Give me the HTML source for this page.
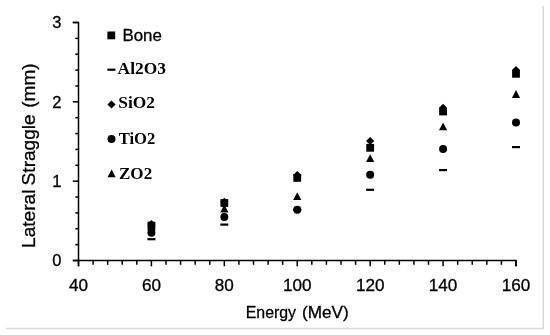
<!DOCTYPE html>
<html><head><meta charset="utf-8"><title>Lateral Straggle vs Energy</title>
<style>html,body{margin:0;padding:0;background:#fff;width:550px;height:335px;overflow:hidden}svg{display:block}</style>
</head><body><svg width="550" height="335" viewBox="0 0 550 335"><g stroke="#000" stroke-width="1.5" fill="none"><path d="M72.8 22.5H78.5V266.3M72.8 260.5H516V266.3" /><path d="M72.8 260.50H78.5"/><path d="M72.8 181.17H78.5"/><path d="M72.8 101.83H78.5"/><path d="M72.8 22.50H78.5"/><path d="M75.3 244.63H78.5"/><path d="M75.3 228.77H78.5"/><path d="M75.3 212.90H78.5"/><path d="M75.3 197.03H78.5"/><path d="M75.3 165.30H78.5"/><path d="M75.3 149.43H78.5"/><path d="M75.3 133.57H78.5"/><path d="M75.3 117.70H78.5"/><path d="M75.3 85.97H78.5"/><path d="M75.3 70.10H78.5"/><path d="M75.3 54.23H78.5"/><path d="M75.3 38.37H78.5"/><path d="M78.50 260.5V266.3"/><path d="M151.42 260.5V266.3"/><path d="M224.33 260.5V266.3"/><path d="M297.25 260.5V266.3"/><path d="M370.17 260.5V266.3"/><path d="M443.08 260.5V266.3"/><path d="M516.00 260.5V266.3"/><path d="M93.08 260.5V264.8"/><path d="M107.67 260.5V264.8"/><path d="M122.25 260.5V264.8"/><path d="M136.83 260.5V264.8"/><path d="M166.00 260.5V264.8"/><path d="M180.58 260.5V264.8"/><path d="M195.17 260.5V264.8"/><path d="M209.75 260.5V264.8"/><path d="M238.92 260.5V264.8"/><path d="M253.50 260.5V264.8"/><path d="M268.08 260.5V264.8"/><path d="M282.67 260.5V264.8"/><path d="M311.83 260.5V264.8"/><path d="M326.42 260.5V264.8"/><path d="M341.00 260.5V264.8"/><path d="M355.58 260.5V264.8"/><path d="M384.75 260.5V264.8"/><path d="M399.33 260.5V264.8"/><path d="M413.92 260.5V264.8"/><path d="M428.50 260.5V264.8"/><path d="M457.67 260.5V264.8"/><path d="M472.25 260.5V264.8"/><path d="M486.83 260.5V264.8"/><path d="M501.42 260.5V264.8"/></g><g font-family="Liberation Sans, Arial, sans-serif" stroke="#000" stroke-width="0.3" font-size="16" fill="#000"><text transform="translate(61.4 266.30) scale(1.03 1)" text-anchor="end">0</text><text transform="translate(61.4 186.97) scale(1.03 1)" text-anchor="end">1</text><text transform="translate(61.4 107.63) scale(1.03 1)" text-anchor="end">2</text><text transform="translate(61.4 28.30) scale(1.03 1)" text-anchor="end">3</text><text transform="translate(78.50 290.8) scale(1.07 1)" text-anchor="middle">40</text><text transform="translate(151.42 290.8) scale(1.07 1)" text-anchor="middle">60</text><text transform="translate(224.33 290.8) scale(1.07 1)" text-anchor="middle">80</text><text transform="translate(297.25 290.8) scale(1.07 1)" text-anchor="middle">100</text><text transform="translate(370.17 290.8) scale(1.07 1)" text-anchor="middle">120</text><text transform="translate(443.08 290.8) scale(1.07 1)" text-anchor="middle">140</text><text transform="translate(516.00 290.8) scale(1.07 1)" text-anchor="middle">160</text></g><g font-family="Liberation Sans, Arial, sans-serif" stroke="#000" stroke-width="0.3" font-size="16.4"><text transform="translate(245.7 317.7) scale(0.97 1)">Energy</text><text transform="translate(301.9 317.7) scale(1.05 1)">(MeV)</text></g><g font-family="Liberation Sans, Arial, sans-serif" stroke="#000" stroke-width="0.3" font-size="19.1" text-anchor="middle"><text transform="translate(34.5 218.75) rotate(-90)">Lateral</text><text transform="translate(34.5 149.85) rotate(-90)">Straggle</text><text transform="translate(34.5 85.60) rotate(-90)">(mm)</text></g><g fill="#000"><rect x="147.52" y="221.70" width="7.8" height="7.8"/><rect x="220.43" y="199.10" width="7.8" height="7.8"/><rect x="293.35" y="174.00" width="7.8" height="7.8"/><rect x="366.27" y="143.90" width="7.8" height="7.8"/><rect x="439.18" y="107.60" width="7.8" height="7.8"/><rect x="512.10" y="69.90" width="7.8" height="7.8"/><rect x="147.42" y="238.10" width="8.0" height="2.2"/><rect x="220.33" y="223.50" width="8.0" height="2.2"/><rect x="293.25" y="208.70" width="8.0" height="2.2"/><rect x="366.17" y="188.70" width="8.0" height="2.2"/><rect x="439.08" y="169.00" width="8.0" height="2.2"/><rect x="512.00" y="146.00" width="8.0" height="2.2"/><path d="M151.42 220.00L155.52 224.10L151.42 228.20L147.32 224.10Z"/><path d="M224.33 197.80L228.43 201.90L224.33 206.00L220.23 201.90Z"/><path d="M297.25 170.90L301.35 175.00L297.25 179.10L293.15 175.00Z"/><path d="M370.17 136.90L374.27 141.00L370.17 145.10L366.07 141.00Z"/><path d="M443.08 103.80L447.18 107.90L443.08 112.00L438.98 107.90Z"/><path d="M516.00 66.00L520.10 70.10L516.00 74.20L511.90 70.10Z"/><circle cx="151.42" cy="232.80" r="4.0"/><circle cx="224.33" cy="216.90" r="4.0"/><circle cx="297.25" cy="209.80" r="4.0"/><circle cx="370.17" cy="174.80" r="4.0"/><circle cx="443.08" cy="149.00" r="4.0"/><circle cx="516.00" cy="122.60" r="4.0"/><path d="M151.42 222.60L155.52 230.40L147.32 230.40Z"/><path d="M224.33 204.60L228.43 212.40L220.23 212.40Z"/><path d="M297.25 192.20L301.35 200.00L293.15 200.00Z"/><path d="M370.17 154.20L374.27 162.00L366.07 162.00Z"/><path d="M443.08 122.50L447.18 130.30L438.98 130.30Z"/><path d="M516.00 90.10L520.10 97.90L511.90 97.90Z"/><rect x="107.40" y="31.50" width="7.8" height="7.8"/><rect x="107.40" y="68.60" width="8.0" height="2.2"/><path d="M111.50 100.40L115.60 104.50L111.50 108.60L107.40 104.50Z"/><circle cx="111.50" cy="139.00" r="4.0"/><path d="M111.60 169.40L115.70 177.20L107.50 177.20Z"/></g><text transform="translate(122.4 41) scale(1.07 1)" font-family="Liberation Sans, Arial, sans-serif" stroke="#000" stroke-width="0.3" font-size="15.8">Bone</text><text transform="translate(117.6 74.3) scale(1.0 1)" font-family="Liberation Serif, Times New Roman, serif" font-weight="bold" font-size="17.4">Al2O3</text><text transform="translate(118.3 108.2) scale(1.0 1)" font-family="Liberation Serif, Times New Roman, serif" font-weight="bold" font-size="17.4">SiO2</text><text transform="translate(118.7 143.8) scale(0.955 1)" font-family="Liberation Serif, Times New Roman, serif" font-weight="bold" font-size="17.4">TiO2</text><text transform="translate(119.0 179.2) scale(0.98 1)" font-family="Liberation Serif, Times New Roman, serif" font-weight="bold" font-size="17.4">ZO2</text><path d="M543.3 6V328.6H6" stroke="#d9d9d9" stroke-width="1.5" fill="none"/></svg></body></html>
